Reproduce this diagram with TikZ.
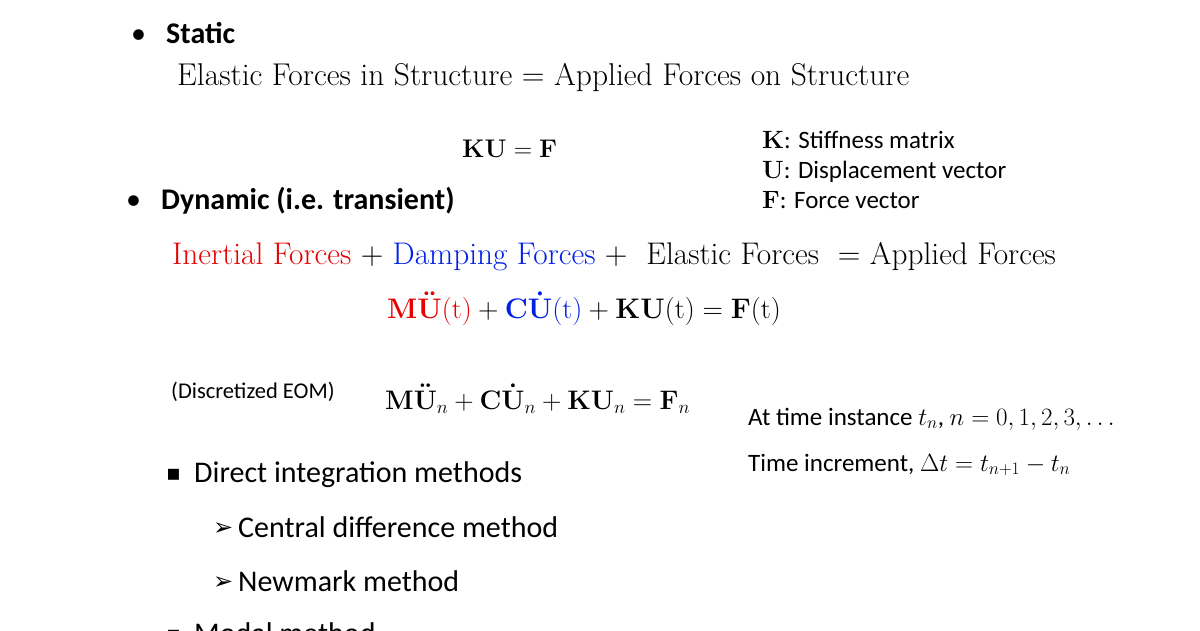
\documentclass[tikz,border=0pt]{standalone}
\usepackage{fix-cm}
\usepackage[no-math]{fontspec}
\setmainfont{Carlito}
\newfontfamily\dejavu{DejaVu Sans}
\newfontfamily\serifc{Latin Modern Roman}
\definecolor{ired}{RGB}{230,0,0}
\definecolor{dblue}{RGB}{0,32,230}
\newcommand{\fs}[1]{\fontsize{#1}{#1}\selectfont}
\begin{document}
\begin{tikzpicture}[x=1pt,y=-1pt,
  t/.style={anchor=base west,inner sep=0pt},
  s/.style={t,font=\fs{30}}]
\useasboundingbox (0,0) rectangle (1200,630);
\clip (0,0) rectangle (1200,630);
\node[t,font=\fs{30}] (b1) at (131,43) {•};
\node[s] (st) at (166,43) {\textbf{Static}};
\node[t,font=\fs{31.5}\serifc] (el) at (177,85) {Elastic Forces in Structure $=$ Applied Forces on Structure};
\node[t,font=\fs{25.5}] (ku) at (462,157) {$\mathbf{KU}=\mathbf{F}$};
\node[t,font=\fs{25}] (k) at (762,148) {$\mathbf{K}$: Stiffness matrix};
\node[t,font=\fs{25}] (u) at (762,178) {$\mathbf{U}$: Displacement vector};
\node[t,font=\fs{25}] (f) at (762,208) {$\mathbf{F}$: Force vector};
\node[t,font=\fs{30}] (b2) at (126,209) {•};
\node[s] (dy) at (161,209) {\textbf{Dynamic (i.e. transient)}};
\node[t,font=\fs{31.3}\serifc] (eq) at (172,264) {\textcolor{ired}{Inertial Forces} $+$ \textcolor{dblue}{Damping Forces} $+$\ \ Elastic Forces\ \ $=$ Applied Forces};
\node[t,font=\fs{28.3}] (eom) at (387,318) {$\textcolor{ired}{\mathbf{M\ddot U}(\mathrm{t})}+\textcolor{dblue}{\mathbf{C\dot U}(\mathrm{t})}+\mathbf{KU}(\mathrm{t})=\mathbf{F}(\mathrm{t})$};
\node[t,font=\fs{22.5}] (de) at (171,398) {(Discretized EOM)};
\node[t,font=\fs{26.8}] (deq) at (385,409) {$\mathbf{M\ddot U}_n+\mathbf{C\dot U}_n+\mathbf{KU}_n=\mathbf{F}_n$};
\node[t,font=\fs{25}] (ti) at (748,425) {At time instance $t_n$, $n=0,1,2,3,\ldots$};
\node[t,font=\fs{25}] (tc) at (748,471) {Time increment, $\Delta t=t_{n+1}-t_n$};
\node[t,font=\fs{22}\dejavu] (b3) at (166,480) {▪};
\node[s] (di) at (194,482) {Direct integration methods};
\node[t,font=\fs{24}\dejavu] (a1) at (213,535) {➢};
\node[s] (cd) at (238,537) {Central difference method};
\node[t,font=\fs{24}\dejavu] (a2) at (213,589) {➢};
\node[s] (nm) at (238,591) {Newmark method};
\node[t,font=\fs{22}\dejavu] (b4) at (166,641) {▪};
\node[s] (mm) at (194,643) {Modal method};
\end{tikzpicture}
\end{document}
